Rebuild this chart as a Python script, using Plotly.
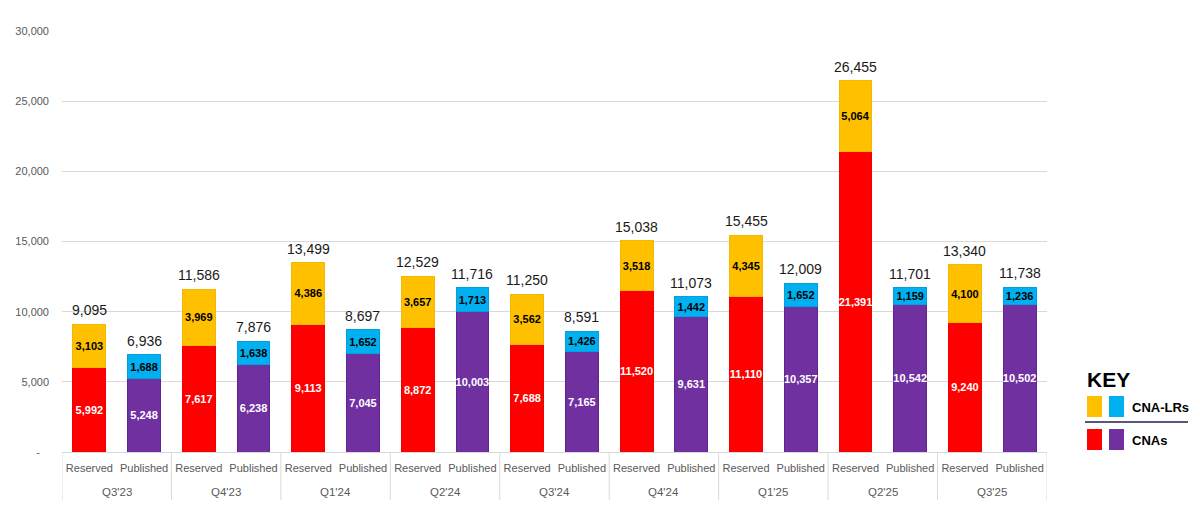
import plotly.graph_objects as go

quarters = ["Q3'23", "Q4'23", "Q1'24", "Q2'24", "Q3'24", "Q4'24", "Q1'25", "Q2'25", "Q3'25"]
kinds = ["Reserved", "Published"]

reserved_cna = [5992, 7617, 9113, 8872, 7688, 11520, 11110, 21391, 9240]
reserved_lr = [3103, 3969, 4386, 3657, 3562, 3518, 4345, 5064, 4100]
reserved_total = [9095, 11586, 13499, 12529, 11250, 15038, 15455, 26455, 13340]
published_cna = [5248, 6238, 7045, 10003, 7165, 9631, 10357, 10542, 10502]
published_lr = [1688, 1638, 1652, 1713, 1426, 1442, 1652, 1159, 1236]
published_total = [6936, 7876, 8697, 11716, 8591, 11073, 12009, 11701, 11738]

y_ticks = [0, 5000, 10000, 15000, 20000, 25000, 30000]
y_ticktext = ["-\u00a0\u00a0\u00a0", "5,000", "10,000", "15,000", "20,000", "25,000", "30,000"]

COL = {"Reserved": {"cna": "#FF0000", "lr": "#FFC000", "cna_line": "#F20000", "lr_line": "#F5B800",
                    "cna_txt": "white", "lr_txt": "black"},
       "Published": {"cna": "#7030A0", "lr": "#00B0F0", "cna_line": "#5E2590", "lr_line": "#00A0E0",
                     "cna_txt": "white", "lr_txt": "black"}}

xk, cna, lr, tot = [], [], [], []
for i, q in enumerate(quarters):
    for k in kinds:
        xk.append(k)
        if k == "Reserved":
            cna.append(reserved_cna[i]); lr.append(reserved_lr[i]); tot.append(reserved_total[i])
        else:
            cna.append(published_cna[i]); lr.append(published_lr[i]); tot.append(published_total[i])

xpos = list(range(len(xk)))
FONT = "Liberation Sans, Arial, sans-serif"
GRID = "#D9D9D9"

fig = go.Figure()
fig.add_trace(go.Bar(
    x=xpos, y=cna, name="CNAs",
    marker=dict(color=[COL[k]["cna"] for k in xk],
                line=dict(color=[COL[k]["cna_line"] for k in xk], width=1)),
    text=[f"{v:,}" for v in cna], textposition="inside", insidetextanchor="middle",
    textangle=0, constraintext="none",
    textfont=dict(family=FONT, size=11, weight="bold", color=[COL[k]["cna_txt"] for k in xk]),
    hoverinfo="skip",
))
fig.add_trace(go.Bar(
    x=xpos, y=lr, name="CNA-LRs",
    marker=dict(color=[COL[k]["lr"] for k in xk],
                line=dict(color=[COL[k]["lr_line"] for k in xk], width=1)),
    text=[f"{v:,}" for v in lr], textposition="inside", insidetextanchor="middle",
    textangle=0, constraintext="none",
    textfont=dict(family=FONT, size=11, weight="bold", color=[COL[k]["lr_txt"] for k in xk]),
    hoverinfo="skip",
))

L, R, T, B = 62, 153, 31, 70
W, H = 1200, 522
pw, ph = W - L - R, H - T - B

def px(xp):
    return (xp - L) / pw

def py(yp):
    return (H - B - yp) / ph

shapes = []
ann = []

# totals above bars
for xi, v in zip(xpos, tot):
    ann.append(dict(text=f"{v:,}", x=xi, y=v, xref="x", yref="y", xanchor="center",
                    yanchor="bottom", yshift=4, showarrow=False,
                    font=dict(family=FONT, size=14, color="#1A1A1A")))

# category group dividers and quarter labels
n_q = len(quarters)
for i in range(n_q + 1):
    shapes.append(dict(type="line", xref="x", yref="paper", x0=2 * i - 0.5, x1=2 * i - 0.5,
                       y0=0, y1=py(500), line=dict(color=GRID, width=1)))
for i, q in enumerate(quarters):
    ann.append(dict(text=q, x=2 * i + 0.5, y=py(492), xref="x", yref="paper",
                    xanchor="center", yanchor="middle", showarrow=False,
                    font=dict(family=FONT, size=11.5, color="#595959")))

# KEY legend
ann.append(dict(text="<b>KEY</b>", x=px(1085), y=py(379), xref="paper", yref="paper",
                xanchor="left", yanchor="middle", showarrow=False,
                font=dict(family=FONT, size=21, color="black")))
for (x0, x1, y0, y1, c) in [(1087, 1102, 396, 417, "#FFC000"), (1109, 1124, 396, 417, "#00B0F0"),
                            (1087, 1102, 429, 450, "#FF0000"), (1109, 1124, 429, 450, "#7030A0")]:
    shapes.append(dict(type="rect", xref="paper", yref="paper", x0=px(x0), x1=px(x1),
                       y0=py(y1), y1=py(y0), fillcolor=c, line=dict(width=0)))
shapes.append(dict(type="line", xref="paper", yref="paper", x0=px(1085), x1=px(1188),
                   y0=py(422), y1=py(422), line=dict(color="#1F1F4F", width=1.5)))
ann.append(dict(text="<b>CNA-LRs</b>", x=px(1130), y=py(407), xref="paper", yref="paper",
                xanchor="left", yanchor="middle", showarrow=False,
                font=dict(family=FONT, size=13, color="black")))
ann.append(dict(text="<b>CNAs</b>", x=px(1130), y=py(440), xref="paper", yref="paper",
                xanchor="left", yanchor="middle", showarrow=False,
                font=dict(family=FONT, size=13, color="black")))

fig.update_layout(
    width=W, height=H,
    margin=dict(l=L, r=R, t=T, b=B, autoexpand=False),
    barmode="stack", bargap=0.4,
    plot_bgcolor="white", paper_bgcolor="white",
    showlegend=False,
    shapes=shapes, annotations=ann,
    font=dict(family=FONT, size=11, color="#595959"),
    xaxis=dict(range=[-0.5, len(xk) - 0.5], tickvals=xpos, ticktext=xk, tickangle=0,
               showline=True, linecolor=GRID, linewidth=1, showgrid=False, zeroline=False,
               ticks="", ticklabelstandoff=6, automargin=False,
               tickfont=dict(family=FONT, size=11, color="#595959")),
    yaxis=dict(range=[0, 30000], tickvals=y_ticks, ticktext=y_ticktext,
               showgrid=True, gridcolor=GRID, gridwidth=1, zeroline=False,
               automargin=False,
               tickfont=dict(family=FONT, size=11, color="#595959"),
               ticklabelstandoff=12),
)

fig.write_html("out.html")
